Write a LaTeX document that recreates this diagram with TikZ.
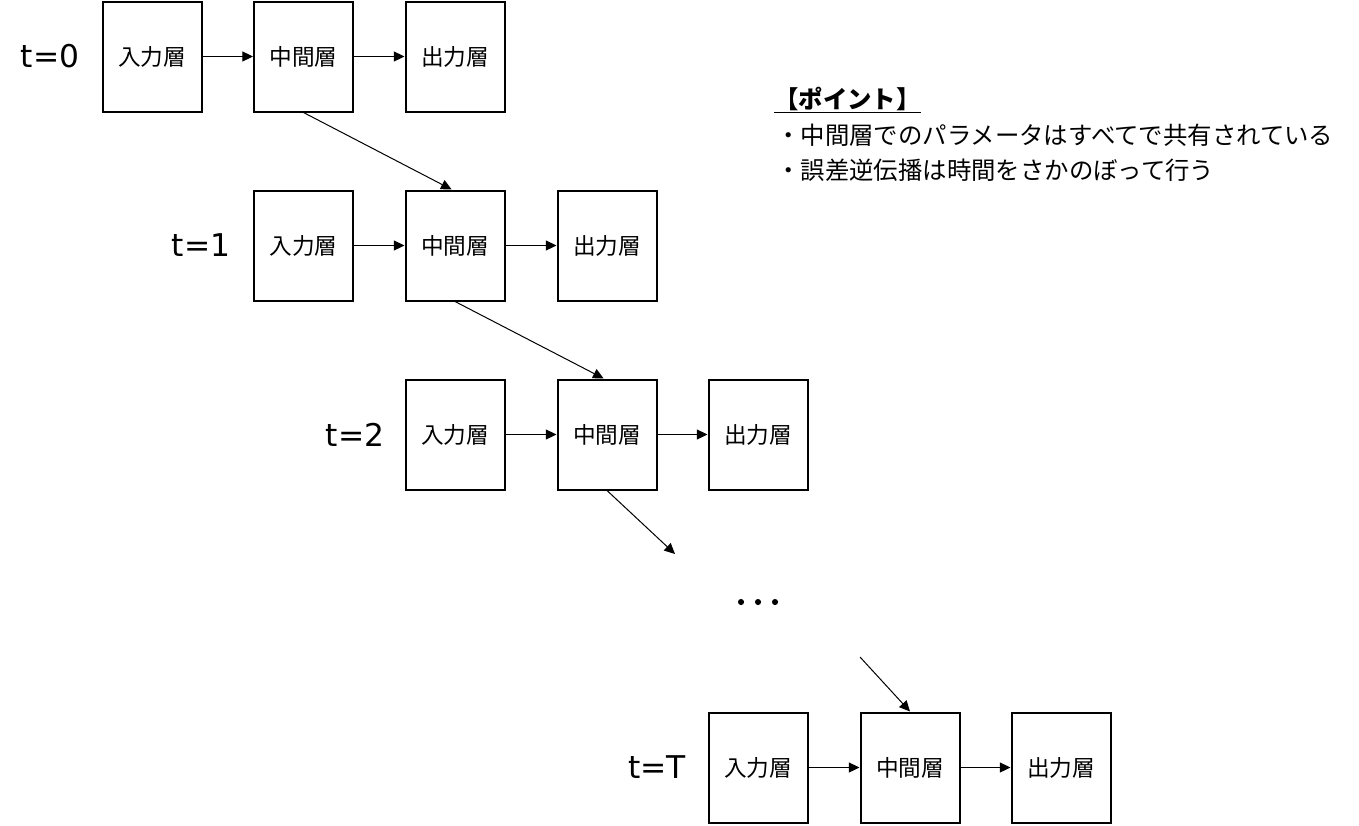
\documentclass[tikz,border=0pt]{standalone}
\usepackage{fontspec}
\setmainfont{Noto Sans CJK JP}
\newfontfamily\latinfont{DejaVu Sans}
\usetikzlibrary{arrows.meta}
\begin{document}
\begin{tikzpicture}[x=0.75pt,y=-0.75pt,
  layerbox/.style={draw,line width=1.5pt,minimum width=74.25pt,minimum height=82.5pt,inner sep=0pt,font=\fontsize{17}{20}\selectfont},
  conn/.style={-{Triangle[length=8pt,width=7.5pt]},line width=0.75pt},
  tlabel/.style={font=\latinfont\fontsize{23.5}{28}\selectfont,inner sep=0pt},
  pointtext/.style={anchor=west,inner sep=0pt,font=\fontsize{18.3}{22}\selectfont}
]
\useasboundingbox (0,0) rectangle (1359,825);
% row t=0
\node[layerbox] (i0) at (152,56.5) {入力層};
\node[layerbox] (m0) at (303.5,56.5) {中間層};
\node[layerbox] (o0) at (455,56.5) {出力層};
\node[tlabel] (t0) at (50,56.5) {t=0};
% row t=1
\node[layerbox] (i1) at (303.5,245.5) {入力層};
\node[layerbox] (m1) at (455,245.5) {中間層};
\node[layerbox] (o1) at (607,245.5) {出力層};
\node[tlabel] (t1) at (201,245.5) {t=1};
% row t=2
\node[layerbox] (i2) at (455,434.5) {入力層};
\node[layerbox] (m2) at (607,434.5) {中間層};
\node[layerbox] (o2) at (758,434.5) {出力層};
\node[tlabel] (t2) at (355,434.5) {t=2};
% row t=T
\node[layerbox] (iT) at (758,767.5) {入力層};
\node[layerbox] (mT) at (910,767.5) {中間層};
\node[layerbox] (oT) at (1061,767.5) {出力層};
\node[tlabel] (tT) at (657,767.5) {t=T};
% horizontal connectors
\foreach \r in {0,1,2,T}{
  \draw[conn] (i\r.east) -- (m\r.west);
  \draw[conn] (m\r.east) -- (o\r.west);
}
% diagonal connectors
\draw[conn] (m0.south) -- ([xshift=-2.5pt]m1.north);
\draw[conn] (m1.south) -- ([xshift=-2.5pt]m2.north);
\coordinate (c1) at (675,554);
\coordinate (c2) at (860,657);
\draw[conn] (m2.south) -- (c1);
\draw[conn] (c2) -- (mT.north);
% dots
\foreach \x in {741,758,775} \fill (\x,602) circle (2.3pt);
% point text
\node[pointtext] (p0) at (774,100) {\bfseries\underline{【ポイント】}};
\node[pointtext] (p1) at (776,135) {・中間層でのパラメータはすべてで共有されている};
\node[pointtext] (p2) at (776,170) {・誤差逆伝播は時間をさかのぼって行う};
\end{tikzpicture}
\end{document}
